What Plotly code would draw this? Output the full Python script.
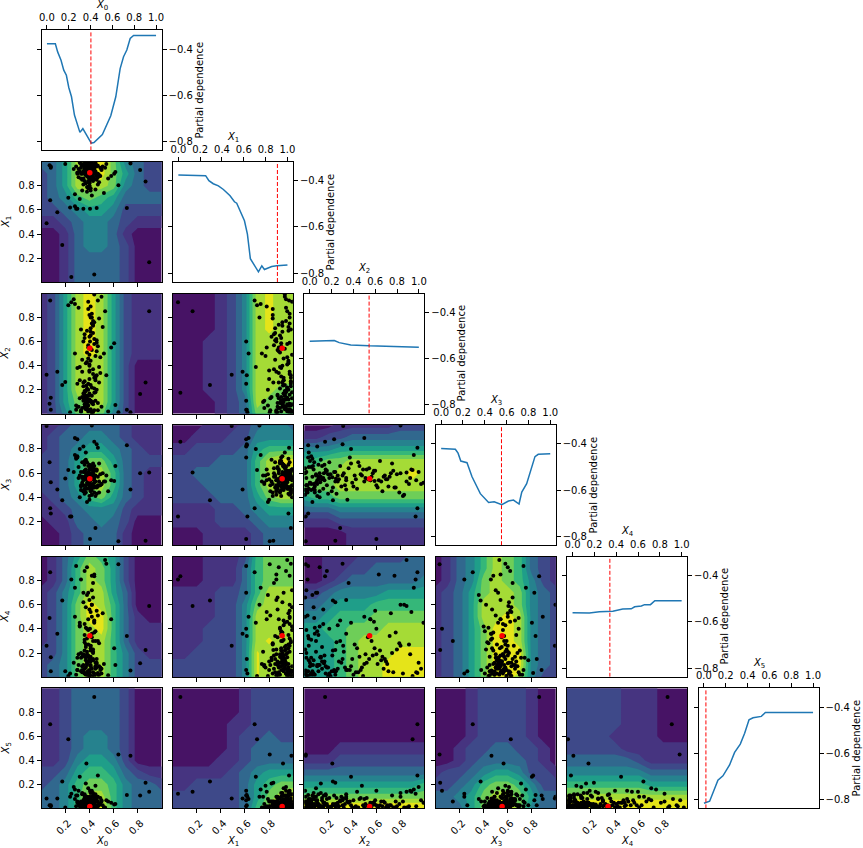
import plotly.graph_objects as go

# ---------- sample points (same runs in every panel) ----------
X0 = [.075,.225,.44,.64,.74,.045,.134,.175,.895,.865,.82,.71,.25,.07,.08,.08,.20,.58,.605,.615,.555,.42,.375,.47,.28,.405,.45,.24,.30,.35,.46,.32,.29,
      .40,.38,.43,.36,.41,.45,.33,.39,.42,.37,.47,.35,.40,.44,.31,.38,.41,.49,.36,.43,.39,.34,.42,.46,.37,.40,.29,.44,.38,.52,
      .41,.35,.43,.39,.48,.36,.40,.33,.45,.42,.37,.50,.39,.41,.30,.44,.38,.36,.43,.47,.40,.34,.42,.39,.53,.37,.41,.45,.32,.38,
      .43,.40,.36,.48,.39,.44,.35,.41,.28,.42,.38,.46,.37,.40,.51,.43,.34,.39,.41,.36,.45,.38,.42,.31,.40,.47,.37,.44,.39,.33,
      .41,.36,.49,.43,.38,.40,.35,.46,.42,.30,.39,.44,.37,.41,.54,.34,.43,.40,.38,.27,.45,.36,.42,.39,.48,.41,.35,.44,.37,.40,
      .33,.43,.38,.46,.41,.50,.36,.39,.42,.32]
X1 = [.68,.70,.065,.805,.985,.49,.58,.31,.166,.835,.93,.615,.045,.97,.95,.96,.98,.88,.90,.915,.86,.72,.915,.965,.63,.61,.98,.62,.61,.61,.615,.69,.61,
      .92,.88,.97,.95,.85,.99,.90,.78,.93,.96,.87,.91,.82,.98,.94,.89,.76,.95,.92,.84,.99,.90,.86,.97,.93,.80,.96,.91,.88,.74,
      .94,.98,.85,.92,.89,.97,.83,.95,.90,.87,.99,.93,.79,.96,.91,.86,.94,.98,.88,.81,.92,.97,.90,.84,.95,.89,.93,.77,.99,.96,
      .87,.91,.94,.83,.98,.92,.86,.90,.73,.95,.97,.88,.93,.80,.96,.91,.85,.99,.89,.94,.92,.75,.97,.87,.95,.90,.82,.93,.98,.86,
      .91,.96,.88,.94,.79,.99,.92,.85,.97,.90,.83,.95,.89,.93,.98,.76,.91,.87,.96,.94,.90,.84,.99,.92,.88,.97,.81,.95,.93,.86,
      .98,.91,.89,.96,.78,.94,.90,.87,.97,.92]
X2 = [.94,.90,.175,.015,.015,.325,.35,.24,.85,.26,.165,.035,.925,.085,.135,.035,.265,.55,.585,.075,.02,.80,.235,.94,.50,.60,.30,.015,.25,.11,.32,.39,.035,
      .12,.05,.33,.08,.71,.18,.02,.55,.15,.42,.09,.26,.64,.03,.88,.21,.11,.47,.06,.37,.93,.14,.01,.59,.19,.29,.07,.76,.13,.50,
      .04,.23,.67,.10,.39,.16,.82,.02,.31,.53,.08,.97,.20,.44,.06,.62,.12,.27,.74,.03,.17,.35,.09,.57,.85,.05,.24,.48,.13,.69,
      .01,.40,.18,.79,.07,.30,.60,.11,.91,.22,.04,.52,.15,.36,.72,.08,.45,.02,.65,.19,.28,.10,.83,.06,.41,.56,.14,.99,.25,.03,
      .68,.12,.34,.77,.07,.49,.17,.61,.01,.38,.87,.21,.09,.54,.32,.05,.73,.16,.43,.95,.11,.66,.02,.46,.26,.80,.13,.58,.04,.35,
      .70,.10,.51,.20,.89,.06,.63,.15,.75,.28]
X3 = [.31,.625,.86,.035,.465,.99,.465,.375,.605,.04,.60,.83,.24,.69,.525,.265,.555,.54,.535,.66,.45,.995,.565,.81,.89,.055,.145,.24,.88,.82,.84,.80,.73,
      .55,.52,.60,.47,.57,.63,.50,.54,.66,.58,.49,.61,.53,.44,.56,.69,.51,.59,.46,.64,.54,.57,.42,.62,.50,.55,.72,.48,.60,.53,
      .65,.45,.58,.52,.68,.56,.41,.61,.49,.55,.63,.51,.59,.47,.74,.54,.57,.43,.62,.50,.67,.56,.46,.60,.53,.70,.48,.58,.40,.55,
      .64,.52,.61,.44,.57,.66,.50,.54,.75,.59,.47,.63,.55,.38,.60,.51,.69,.56,.45,.62,.53,.58,.42,.65,.49,.57,.71,.52,.61,.46,
      .55,.67,.50,.59,.36,.63,.54,.48,.60,.73,.51,.56,.44,.64,.58,.52,.68,.47,.55,.61,.41,.57,.50,.66,.53,.60,.45,.62,.77,.54,
      .49,.59,.56,.43,.63,.51,.70,.55,.48,.58]
X4 = [.87,.01,.835,.935,.055,.26,.36,.635,.59,.225,.115,.34,.81,.49,.165,.05,.05,.48,.24,.10,.015,.60,.18,.035,.50,.40,.30,.03,.06,.70,.15,.45,.92,
      .05,.12,.21,.03,.34,.09,.16,.48,.07,.27,.02,.62,.14,.01,.19,.40,.10,.06,.31,.78,.04,.17,.23,.55,.08,.13,.02,.37,.91,.11,
      .26,.05,.15,.70,.09,.44,.03,.20,.12,.33,.58,.07,.01,.24,.16,.85,.10,.29,.04,.51,.13,.06,.36,.18,.97,.02,.22,.08,.42,.11,
      .66,.15,.03,.28,.05,.47,.19,.09,.74,.01,.32,.12,.25,.06,.53,.14,.04,.39,.17,.88,.07,.21,.60,.10,.02,.30,.16,.45,.05,.81,
      .13,.35,.08,.23,.68,.01,.18,.11,.50,.06,.27,.03,.41,.15,.94,.09,.20,.56,.04,.12,.38,.07,.72,.17,.02,.26,.10,.46,.14,.64,
      .05,.30,.19,.08,.54,.03,.22,.13,.84,.43]
X5 = [.70,.575,.925,.45,.44,.085,.085,.225,.14,.215,.11,.115,.125,.03,.02,.03,.01,.05,.035,.04,.06,.10,.375,.275,.08,.15,.06,.10,.11,.07,.03,.265,.02,
      .02,.05,.01,.08,.03,.12,.04,.02,.07,.01,.10,.03,.06,.02,.15,.01,.04,.09,.03,.05,.02,.13,.01,.07,.04,.02,.11,.06,.03,.01,
      .08,.02,.05,.17,.03,.01,.06,.04,.10,.02,.03,.07,.01,.14,.05,.02,.04,.09,.01,.06,.03,.12,.02,.05,.01,.08,.04,.19,.02,.03,
      .06,.01,.11,.04,.02,.07,.03,.05,.16,.01,.04,.09,.02,.06,.03,.13,.01,.05,.02,.08,.03,.10,.01,.04,.07,.02,.21,.05,.03,.06,
      .01,.12,.04,.02,.08,.03,.05,.01,.15,.06,.02,.09,.04,.03,.07,.01,.11,.05,.02,.18,.03,.06,.01,.08,.04,.13,.02,.05,.03,.10,
      .01,.07,.04,.02,.14,.06,.03,.09,.01,.05]
SAMPLES = [X0, X1, X2, X3, X4, X5]

BEST = [.403, .908, .544, .553, .342, .018]

# ---------- diagonal partial-dependence curves ----------
PD_X0 = [0,.077,.098,.129,.154,.178,.2,.225,.252,.302,.329,.357,.406,.431,.508,.585,.631,.671,.702,.732,.763,.794,1]
PD_Y0 = [-.377,-.377,-.412,-.448,-.491,-.513,-.566,-.606,-.685,-.76,-.744,-.769,-.807,-.804,-.769,-.688,-.606,-.484,-.433,-.404,-.354,-.341,-.341]
PD_X1 = [0,.153,.25,.28,.32,.367,.413,.474,.514,.535,.566,.606,.633,.66,.734,.765,.789,.856,.902,1]
PD_Y1 = [-.375,-.375,-.378,-.4,-.413,-.422,-.438,-.465,-.491,-.497,-.533,-.573,-.631,-.737,-.794,-.768,-.784,-.771,-.768,-.764]
PD_X2 = [0,.225,.27,.376,.544,.757,.848,1]
PD_Y2 = [-.525,-.522,-.531,-.541,-.545,-.55,-.549,-.551]
PD_X3 = [0,.13,.155,.18,.237,.283,.359,.435,.486,.556,.617,.663,.714,.739,.784,.86,.89,1]
PD_Y3 = [-.42,-.423,-.44,-.474,-.481,-.542,-.615,-.653,-.65,-.663,-.647,-.643,-.66,-.608,-.572,-.455,-.445,-.442]
PD_X4 = [0,.154,.246,.369,.46,.538,.569,.631,.66,.714,.754,.83,1]
PD_Y4 = [-.561,-.562,-.557,-.554,-.545,-.544,-.535,-.532,-.526,-.526,-.509,-.508,-.509]
PD_X5 = [0,.052,.128,.174,.235,.281,.333,.373,.413,.45,.526,.563,1]
PD_Y5 = [-.816,-.807,-.716,-.697,-.65,-.596,-.56,-.513,-.455,-.446,-.44,-.423,-.423]
PD_XS = [PD_X0, PD_X1, PD_X2, PD_X3, PD_X4, PD_X5]
PD_YS = [PD_Y0, PD_Y1, PD_Y2, PD_Y3, PD_Y4, PD_Y5]

# ---------- contour grids: rows y = 0, .1 ... 1; columns x = 0, .1 ... 1; value = contour band ----------
GRID = [0, .1, .2, .3, .4, .5, .6, .7, .8, .9, 1]
Z_0_1 = [[0,0,1,3,3,3,3,2,0,0,0],[0,0,1,3,3,3,3,2,0,0,0],[0,0,1,3,3,3,3,2,0,0,0],[0,0,1,3,4,4,3,2,0,0,0],[0,0,1,3,4,4,3,1,0,0,0],
         [1,1,2,3,4,4,3,2,1,1,1],[2,2,3,4,5,5,4,2,2,2,2],[2,3,4,6,7,6,5,3,3,3,3],[2,3,5,8,8,8,7,4,3,2,2],[2,3,5,8,9,9,7,5,3,2,2],[3,3,5,8,9,9,7,4,3,2,2]]
Z_0_2 = [[1,2,4,7,8,7,4,2,0,0,0],[1,2,5,7,8,8,5,2,0,0,0],[1,2,5,8,8,8,5,2,0,0,0],[1,2,5,8,8,8,5,2,0,0,0],[1,2,5,8,8,8,5,2,0,0,0],
         [1,2,5,8,9,8,5,2,1,1,1],[1,2,5,8,9,8,5,2,1,1,1],[1,2,5,8,9,8,5,2,1,1,1],[1,2,5,8,9,8,5,2,1,1,1],[1,2,5,8,9,8,5,2,1,1,1],[1,2,5,8,9,8,5,2,1,1,1]]
Z_1_2 = [[0,0,0,0,1,2,3,7,7,7,7],[0,0,0,0,1,2,3,8,7,7,7],[0,0,0,1,1,2,4,8,8,7,7],[0,0,0,1,1,2,4,8,8,8,8],[0,0,0,1,1,2,4,8,8,8,8],
         [0,0,0,1,1,2,4,8,8,8,8],[0,0,0,1,1,2,4,8,8,8,8],[0,0,0,0,1,2,4,8,8.75,8,8],[0,0,0,0,1,2,4,8,8.75,8,8],[0,0,0,0,1,2,4,8,8.75,8,8],[0,0,0,0,1,2,4,8,8.75,8,8]]
Z_0_3 = [[0,0,1,2,3,3,3,1,0,0,0],[0,0,1,2,3,3,3,1,0,0,0],[0,1,1,3,3,4,3,2,0,0,0],[1,1,2,3,4,4,4,2,1,1,1],[1,2,3,4,6,7,5,3,2,1,1],
         [2,2,3,5,8,8,6,3,2,1,1],[2,2,3,5,8,8,6,3,2,1,1],[2,2,3,5,7,7,5,3,2,2,2],[1,2,3,4,5,5,4,3,2,1,1],[1,2,3,3,4,4,3,2,1,1,1],[1,1,2,3,3,3,3,2,1,1,1]]
Z_1_3 = [[0,0,0,1,1,1,1,2,3,3,3],[0,0,0,1,1,1,1,2,3,3,3],[1,1,1,1,2,2,2,3,4,4,4],[1,1,1,1,2,2,3,4,5,5,5],[2,2,2,2,3,3,3,5,7,8,8],
         [2,2,2,3,3,3,3,6,8,8,8],[2,2,3,3,3,3,3,6,8,8,8],[2,2,2,2,3,3,3,6,8,9,9],[1,1,2,2,2,2,3,5,6,6,6],[0,0,1,1,1,2,2,4,4,4,4],[0,0,0,1,1,1,2,3,4,4,3]]
Z_2_3 = [[0,0,0,0,1,1,1,1,1,1,1],[0,0,0,0,1,1,1,1,1,1,1],[1,1,1,2,2,2,2,2,2,2,2],[3,3,3,4,4,4,4,4,4,4,4],[5,6,6,7,7,7,7,7,7,7,7],
         [7,7,7,8,8,8,8,8,8,8,8],[7,7,7,8,8,8,8,8,8,9,8],[6,6,7,7,8,8,8,8,8,8,8],[4,4,4,5,5,5,5,5,5,5,5],[1,1,2,2,3,3,3,3,3,3,3],[0,0,0,1,1,1,1,1,2,2,2]]
Z_0_4 = [[2,3,4,7,8,8,6,4,2,2,2],[2,3,4,7,8,8,6,4,2,2,2],[2,2,4,7,8,8,6,4,2,1,1],[1,2,4,7,8,8,6,3,1,1,1],[1,2,4,7,8,9,6,3,1,1,1],
         [1,2,4,7,9,9,6,3,1,0,0],[1,2,4,7,9,8,6,3,0,0,0],[1,2,4,6,8,8,5,3,0,0,0],[0,1,3,6,8,7,5,2,0,0,0],[0,1,3,6,8,7,5,2,0,0,0],[0,1,3,5,7,6,5,2,0,0,0]]
Z_1_4 = [[2,2,2,2,2,2,4,8.6,8,8,8],[2,2,2,2,2,2,4,8.6,8,8,8],[1,1,2,2,2,2,4,8.6,8,8,8],[1,1,1,2,2,2,4,8,8.7,8,8],[1,1,1,2,2,2,4,8,8,8,8],
         [1,1,1,1,2,2,4,8,8,8,8],[1,1,1,1,2,2,4,7,8,8,8],[1,1,1,1,2,2,3,6,8,8,8],[0,0,0,1,1,1,3,6,7,7,7],[0,0,0,1,1,1,3,6,7,7,7],[0,0,0,1,1,1,2,6,7,7,7]]
Z_2_4 = [[5,5,5,6,7,8,8,9,9,9,9],[5,5,5,6,7,8,8,9,9,9,9],[5,5,5,6,7,8,8,8,9,9,9],[5,5,5,6,7,8,8,8,8,8,8],[5,5,6,6,7,7,7,8,8,8,8],
         [4,4,5,6,6,6,7,7,7,7,7],[3,3,4,5,5,5,6,6,6,6,6],[2,2,3,4,4,4,4,5,5,5,5],[0,0,1,2,3,3,3,3,3,3,4],[0,0,1,1,2,2,3,3,3,3,3],[0,0,1,1,1,2,2,2,2,3,3]]
Z_3_4 = [[1,2,3,5,7,9,9,8,4,2,2],[1,2,3,5,7,9,9,9,4,3,2],[1,2,3,5,7,9,9,9,4,3,2],[1,2,3,5,7,9,9,8,4,3,2],[1,2,3,5,7,9,9,8,4,3,2],
         [1,2,3,5,8,8,9,8,4,3,2],[1,2,3,5,8,8,8,7,4,3,2],[1,2,3,5,7,8,8,7,4,3,2],[0,1,3,4,7,8,7,6,4,2,1],[0,1,3,4,6,8,7,6,3,2,1],[0,1,3,4,6,8,7,6,3,2,1]]
Z_0_5 = [[3,3,4,6,9,9,6,4,3,3,3],[3,3,4,6,8,8,6,4,3,3,3],[2,3,4,6,7,7,6,4,3,3,2],[2,2,3,5,6,6,5,3,2,1,1],[1,1,2,4,5,5,4,2,0,0,0],
         [1,1,2,3,4,4,3,2,0,0,0],[1,1,2,3,4,4,3,2,0,0,0],[1,1,2,3,3,3,3,2,0,0,0],[1,1,2,3,3,3,3,2,0,0,0],[1,1,2,3,3,3,3,2,0,0,0],[1,1,2,3,3,3,3,2,0,0,0]]
Z_1_5 = [[2,2,2,2,2,2,3,6,8,9,9],[2,2,2,2,2,2,3,5,7,8,9],[1,1,2,2,2,2,3,5,6,7,7],[1,1,1,1,1,2,3,4,5,5,5],[0,0,0,0,1,1,2,3,3,3,3],
         [0,0,0,0,0,1,2,3,3,3,3],[0,0,0,0,0,1,2,2,3,2,2],[0,0,0,0,0,1,1,2,2,2,2],[0,0,0,0,0,0,1,2,2,2,2],[0,0,0,0,0,0,1,2,2,2,2],[0,0,0,0,0,0,1,2,2,2,2]]
Z_2_5 = [[10,10,10,10,10,10,10,10,10,10,10],[7,7,7,7,7,7,7,7,7,7,7],[5,5,5,5,5,5,5,5,5,5,6],[3,3,3,3,3,3,3,3,3,3,3],[1,1,1,2,2,2,2,2,2,2,2],
         [0,0,0,1,1,1,1,1,1,1,1],[0,0,0,0,0,0,0,0,0,0,0],[0,0,0,0,0,0,0,0,0,0,0],[0,0,0,0,0,0,0,0,0,0,0],[0,0,0,0,0,0,0,0,0,0,0],[0,0,0,0,0,0,0,0,0,0,0]]
Z_3_5 = [[3,3,3,5,7,10,10,7,4,3,3],[3,3,4,5,7,8,8,7,5,3,3],[2,2,3,4,6,7,7,6,4,2,2],[1,2,2,3,4,5,5,4,2,2,1],[0,0,1,2,3,3,3,3,2,1,0],
         [0,0,1,2,2,3,3,2,2,1,0],[0,0,0,1,2,2,2,2,1,0,0],[0,0,0,1,2,2,2,2,1,0,0],[0,0,0,1,2,2,2,2,1,0,0],[0,0,0,1,2,2,2,2,1,0,0],[0,0,0,1,2,2,2,2,1,0,0]]
Z_4_5 = [[10,10,10,10,10,10,10,10,10,10,10],[8,8,8,8,8,8,8,8,8,8,8],[6,6,6,6,6,6,6,5,5,5,5],[4,4,4,4,4,4,4,3,3,3,3],[3,3,3,3,3,3,2,1,1,1,1],
         [2,2,2,2,2,1,1,1,1,1,1],[2,2,2,2,1,1,1,1,0,0,0],[2,2,2,2,2,1,1,1,0,0,0],[2,2,2,2,2,1,1,1,0,0,0],[2,2,2,2,2,1,1,1,0,0,0],[2,2,2,2,2,1,1,1,0,0,0]]
GRIDS = {(0,1):Z_0_1,(0,2):Z_0_2,(1,2):Z_1_2,(0,3):Z_0_3,(1,3):Z_1_3,(2,3):Z_2_3,(0,4):Z_0_4,(1,4):Z_1_4,(2,4):Z_2_4,(3,4):Z_3_4,
         (0,5):Z_0_5,(1,5):Z_1_5,(2,5):Z_2_5,(3,5):Z_3_5,(4,5):Z_4_5}

BANDS = ["#471365","#463480","#3e4989","#31688e","#26828e","#1f9e89","#35b779","#6ece58","#a5db36","#e5e419"]
COLORSCALE = [[i / 9, c] for i, c in enumerate(BANDS)]

W, H = 863, 848
LEFT0, TOP0, STEPX, STEPY, SIZE = 41.5, 30.4, 131.4, 131.6, 120
FONT = dict(family="DejaVu Sans", size=10, color="black")
PD_RANGE = [-.838, -.319]

fig = go.Figure()
axes = {}
annotations = []
n = 0


def px_x(p):
    return p / W


def px_y(p):
    return 1 - p / H


def note(text, x, y, angle=0):
    annotations.append(dict(text=text, x=px_x(x), y=px_y(y), xref="paper", yref="paper", showarrow=False,
                            xanchor="center", yanchor="middle", textangle=angle, font=FONT))


for row in range(6):
    for col in range(row + 1):
        n += 1
        xa, ya = f"x{n}", f"y{n}"
        l, t = LEFT0 + col * STEPX, TOP0 + row * STEPY
        common = dict(showgrid=False, zeroline=False, showline=True, linecolor="black", linewidth=1,
                      ticks="outside", ticklen=4, tickwidth=1, tickcolor="black", tickfont=FONT)
        xd = dict(domain=[px_x(l), px_x(l + SIZE)], anchor=ya, **common)
        yd = dict(domain=[px_y(t + SIZE), px_y(t)], anchor=xa, **common)
        if row == col:
            fig.add_trace(go.Scatter(x=PD_XS[col], y=PD_YS[col], mode="lines", line=dict(color="#1f77b4", width=1.5),
                                     xaxis=xa, yaxis=ya, hoverinfo="skip", showlegend=False))
            fig.add_trace(go.Scatter(x=[BEST[col], BEST[col]], y=PD_RANGE, mode="lines",
                                     line=dict(color="red", width=1, dash="4px,2px"),
                                     xaxis=xa, yaxis=ya, hoverinfo="skip", showlegend=False))
            xd.update(range=[-.05, 1.05], side="top", tickmode="array", tickvals=[0, .2, .4, .6, .8, 1],
                      ticktext=["0.0", "0.2", "0.4", "0.6", "0.8", "1.0"], mirror=True)
            yd.update(range=PD_RANGE, side="right", tickmode="array", tickvals=[-.8, -.6, -.4],
                      ticktext=["\u22120.8", "\u22120.6", "\u22120.4"], mirror="allticks")
            note(f"<i>X</i><sub>{col}</sub>", l + SIZE / 2, t - 25)
            note("Partial dependence", l + SIZE + 37.5, t + SIZE / 2, -90)
        else:
            fig.add_trace(go.Contour(x=GRID, y=GRID, z=GRIDS[(col, row)], colorscale=COLORSCALE, zmin=0, zmax=9,
                                     autocontour=False, contours=dict(start=.5, end=8.5, size=1, coloring="fill", showlines=False),
                                     line=dict(width=0, smoothing=0), showscale=False, hoverinfo="skip",
                                     xaxis=xa, yaxis=ya))
            fig.add_trace(go.Scatter(x=SAMPLES[col], y=SAMPLES[row], mode="markers",
                                     marker=dict(color="black", size=4, line=dict(width=0)),
                                     xaxis=xa, yaxis=ya, hoverinfo="skip", showlegend=False))
            fig.add_trace(go.Scatter(x=[BEST[col]], y=[BEST[row]], mode="markers",
                                     marker=dict(color="red", size=5.5, line=dict(width=0)),
                                     xaxis=xa, yaxis=ya, hoverinfo="skip", showlegend=False))
            vals, texts = [.2, .4, .6, .8], ["0.2", "0.4", "0.6", "0.8"]
            xd.update(range=[.003, .997], tickmode="array", tickvals=vals, mirror=True, showticklabels=row == 5)
            if row == 5:
                xd.update(ticktext=texts, tickangle=-45, ticklabelshift=3)
                note(f"<i>X</i><sub>{col}</sub>", l + SIZE / 2, 841)
            yd.update(range=[.003, .997], tickmode="array", tickvals=vals, mirror=True, showticklabels=col == 0)
            if col == 0:
                yd.update(ticktext=texts)
                note(f"<i>X</i><sub>{row}</sub>", 6, t + SIZE / 2, -90)
        axes[f"xaxis{n}"] = xd
        axes[f"yaxis{n}"] = yd

fig.update_layout(width=W, height=H, margin=dict(l=0, r=0, t=0, b=0), paper_bgcolor="white", plot_bgcolor="white",
                  template="none", showlegend=False, annotations=annotations, font=FONT, **axes)
fig.write_html("out.html", config=dict(displayModeBar=False), post_script="document.body.style.margin='0';")
